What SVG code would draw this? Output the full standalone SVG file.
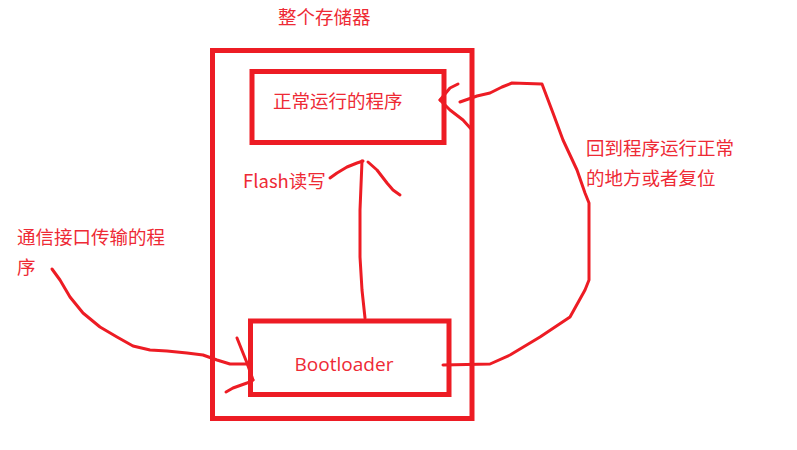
<svg xmlns="http://www.w3.org/2000/svg" width="797" height="450" viewBox="0 0 797 450">
<style>
.box{fill:none;stroke:#ed1c24;stroke-width:5}
.ln{fill:none;stroke:#ed1c24;stroke-width:3;stroke-linecap:round;stroke-linejoin:round}
.t{fill:#ee2a35;font-family:"Noto Sans CJK SC","Noto Sans",sans-serif;font-size:18.5px}
.en{fill:#ee2a35;font-family:"Open Sans","Noto Sans",sans-serif;font-size:18px}
</style>
<rect width="797" height="450" fill="#fff"/>
<g id="memory">
<rect class="box" x="212.5" y="50.5" width="259.5" height="368"/>
<text class="t" x="278" y="24">整个存储器</text>
</g>
<g id="normal-program">
<rect class="box" x="252" y="71.5" width="192" height="71"/>
<text class="t" x="273" y="108">正常运行的程序</text>
</g>
<g id="bootloader">
<rect class="box" x="250.5" y="321" width="198.5" height="73.5"/>
<text class="en" x="294.5" y="371" textLength="99" lengthAdjust="spacingAndGlyphs">Bootloader</text>
</g>
<g id="connectors">
<polyline class="ln" points="52,269 60,280 70,297 83,313 100,327 117,337 133,346 150,350 167,351 187,353 203,355 217,360 230,364 250,364"/>
<polyline class="ln" points="237,338 247,363 252,377 253,380"/>
<polyline class="ln" points="226,392 233,388 247,383 253,380"/>
<polyline class="ln" points="365,318 362,290 360,257 360,210 362,161"/>
<polyline class="ln" points="330,178 337,173 347,167 357,163 363,161"/>
<polyline class="ln" points="368,162 377,170 387,183 393,190 400,195"/>
<polyline class="ln" points="443,365 490,364 510,355 540,337 570,317 585,290 589,280 589,203 585,193 577,170 563,140 553,113 542,84 512,83 502,87 490,93 477,96 460,102"/>
<polyline class="ln" points="458,84 450,88 440,100"/>
<polyline class="ln" points="440,100 450,110 463,120 472,130"/>
</g>
<g id="labels">
<text class="t" x="243" y="188">Flash读写</text>
<text class="t" x="586" y="155">回到程序运行正常</text>
<text class="t" x="586" y="185">的地方或者复位</text>
<text class="t" x="17" y="244">通信接口传输的程</text>
<text class="t" x="17" y="274">序</text>
</g>
</svg>
